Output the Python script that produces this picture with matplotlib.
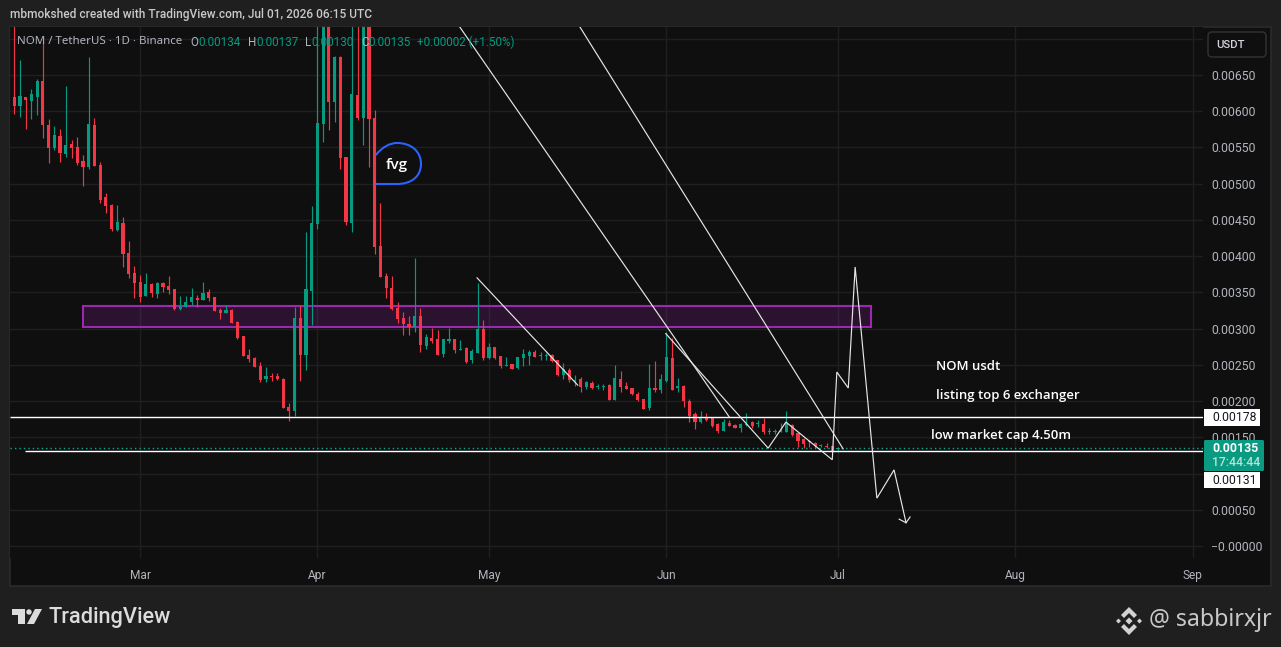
import numpy as np
import matplotlib
matplotlib.use("Agg")
import matplotlib.pyplot as plt
from matplotlib.patches import Rectangle, FancyBboxPatch, Polygon, Circle, PathPatch
from matplotlib.path import Path

UNIT = 1e-5  # values below are in 0.00001 USDT
opens = [620,607,620,614,620,642,581,549,566,541,555,551,531,523,581,526,482,471,436,446,
404,377,364,345,362,348,363,359,355,327,330,337,342,339,351,344,326,322,326,309,
290,264,259,248,230,235,235,230,192,186,315,264,352,444,582,740,613,675,537,446,
622,591,730,591,414,373,356,328,315,306,302,317,276,287,286,265,283,286,270,273,
257,266,299,259,275,262,248,251,246,259,262,268,262,262,264,257,236,243,228,230,
219,225,219,219,222,201,230,221,218,210,203,190,218,215,228,259,218,221,200,182,
171,178,177,168,159,170,167,163,167,171,168,168,157,157,157,157,167,156,148,145,
142,138,138,138,134]
highs = [730,671,620,631,644,696,589,580,575,635,560,564,540,675,591,530,487,472,471,454,
421,386,374,377,363,364,364,373,355,345,345,356,346,364,355,344,328,333,327,311,
290,272,261,254,247,239,239,232,197,330,333,433,469,770,780,800,676,676,537,750,
760,770,780,602,473,377,373,337,323,317,397,328,293,301,298,286,301,286,284,275,
272,363,312,280,275,262,261,251,261,272,270,270,268,266,265,257,253,246,236,233,
228,228,224,224,224,250,242,226,218,213,203,251,255,237,295,287,232,222,203,185,
186,184,178,170,175,174,168,170,184,172,174,177,163,161,170,186,168,156,149,146,
144,141,142,138,137]
lows = [596,592,575,589,595,563,529,546,530,537,535,526,497,520,524,473,460,435,435,385,
370,342,337,345,344,342,351,348,326,326,330,333,330,339,338,324,313,322,308,286,
262,254,247,226,226,228,229,190,172,179,228,243,305,437,558,574,585,520,443,433,
588,553,523,403,371,342,326,308,291,291,295,268,272,280,264,261,280,266,270,253,
253,266,257,258,258,246,248,244,244,248,250,261,257,257,254,235,230,226,221,213,
217,217,217,215,201,201,213,217,208,200,189,188,213,211,226,215,213,192,171,161,
170,172,164,156,159,166,163,157,166,163,164,155,155,155,157,157,152,137,135,137,
135,137,135,130,130]
closes = [607,621,615,624,642,581,549,567,542,553,549,529,523,582,524,477,469,437,447,403,
375,363,344,362,349,363,357,353,327,330,337,344,339,349,342,324,322,326,308,287,
262,258,247,229,235,233,230,190,186,315,264,355,446,584,740,613,675,535,447,624,
591,730,589,413,371,356,327,313,306,302,317,277,288,283,264,286,286,270,272,254,
269,299,259,275,259,248,250,244,261,265,268,261,264,264,255,236,244,229,229,219,
226,218,221,221,201,232,219,217,210,201,189,218,215,230,261,215,221,200,179,171,
177,174,166,159,171,166,163,168,168,166,170,157,159,159,159,170,153,145,141,144,
138,139,137,131,135]

month_days = [22, 53, 83, 114, 144, 175, 206]
month_names = ["Mar", "Apr", "May", "Jun", "Jul", "Aug", "Sep"]
price_ticks = [0, 50, 100, 150, 200, 250, 300, 350, 400, 450, 500, 550, 600, 650, 700]
covered_ticks = [100, 700]  # labels hidden by price tags / the USDT button

level_high = 178
level_low = 131
last_price = 135
zone_low, zone_high = 302, 331
zone_start, zone_end = 12.0, 149.8

trend_a_x, trend_a_y = [80.9, 98.5], [370, 222]
trend_b_x, trend_b_y = [77.9, 125.0], [716, 178]
trend_c_x, trend_c_y = [98.9, 144.9], [716, 134]
path_x = [113.9, 131.8, 134.9, 143.0, 143.8, 145.8, 147.0, 150.8, 153.8, 155.9]
path_y = [293, 135, 171, 119, 240, 218, 385, 66, 105, 32]
arrow_x = [154.7, 155.9, 156.6]
arrow_y = [37, 32, 40]

W, H = 1281, 647
BG = "#1f1f1f"
PANE = "#0f0f0f"
GRID = "#1f1f1f"
UP = "#089981"
DOWN = "#f23645"
TXT = "#b2b5bd"
plt.rcParams["font.family"] = ["Roboto", "DejaVu Sans"]

fig = plt.figure(figsize=(W / 100, H / 100), dpi=100, facecolor=BG)

under = fig.add_axes([0, 0, 1, 1], zorder=0)
under.set_xlim(0, W); under.set_ylim(H, 0); under.axis("off")
under.add_patch(Rectangle((10, 27), 1261, 559, fc=PANE, ec="#2b2b2b", lw=1.2))

L, R, T, B = 10, 1203, 27, 558
ax = fig.add_axes([L / W, (H - B) / H, (R - L) / W, (B - T) / H], zorder=1, facecolor=PANE)
px_day = 5.72
ax.set_xlim((L - 14.3) / px_day, (R - 14.3) / px_day)
ax.set_ylim(-16.6 * UNIT, 716.2 * UNIT)
for s in ax.spines.values():
    s.set_visible(False)

def price_label(t):
    if t in covered_ticks:
        return ""
    return f"{t * UNIT:.5f}" if t else "\u22120.00000"

ax.set_yticks([t * UNIT for t in price_ticks])
ax.set_yticklabels([price_label(t) for t in price_ticks], color=TXT, fontsize=8.8)
ax.yaxis.tick_right()
ax.tick_params(axis="y", length=0, pad=5.8)
ax.set_xticks(month_days)
ax.set_xticklabels(month_names, color=TXT, fontsize=8.6)
ax.tick_params(axis="x", length=0, pad=7.6)
ax.grid(True, color=GRID, lw=1.0)
ax.set_axisbelow(True)

ax.add_patch(Rectangle((zone_start, zone_low * UNIT), zone_end - zone_start,
                       (zone_high - zone_low) * UNIT, fc="#9c27b0", alpha=0.2, ec="none", zorder=1.5))
ax.add_patch(Rectangle((zone_start, zone_low * UNIT), zone_end - zone_start,
                       (zone_high - zone_low) * UNIT, fc="none", ec="#9c27b0", lw=1.5, zorder=2))

xs = np.arange(len(opens))
o, h_, l_, c = [np.array(a) * UNIT for a in (opens, highs, lows, closes)]
cols = [UP if b >= a else DOWN for a, b in zip(opens, closes)]
ax.vlines(xs, l_, h_, colors=cols, lw=0.85, zorder=3)
ax.bar(xs, np.abs(c - o), bottom=np.minimum(o, c), width=0.55, color=cols, lw=0, zorder=3.2)

ax.hlines(level_high * UNIT, ax.get_xlim()[0], ax.get_xlim()[1], color="white", lw=1.0, zorder=4)
ax.hlines(level_low * UNIT, 1.9, ax.get_xlim()[1], color="white", lw=1.0, zorder=4)
ax.axhline(last_price * UNIT, color="#0aa88e", lw=1.0, ls=(0, (1, 2.2)), zorder=4)

line_kw = dict(color="#e6e6e6", lw=0.85, zorder=5, solid_joinstyle="miter")
for lx, ly in ((trend_a_x, trend_a_y), (trend_b_x, trend_b_y), (trend_c_x, trend_c_y),
               (path_x, path_y), (arrow_x, arrow_y)):
    ax.plot(lx, np.array(ly) * UNIT, **line_kw)

over = fig.add_axes([0, 0, 1, 1], zorder=2)
over.set_xlim(0, W); over.set_ylim(H, 0); over.axis("off"); over.patch.set_alpha(0)

over.text(10, 14.5, "mbmokshed created with TradingView.com, Jul 01, 2026 06:15 UTC",
          color="#c9c9c9", fontsize=8.6, va="center", ha="left", fontweight="medium")

leg_y = 42
over.text(17, leg_y, "NOM / TetherUS \u00b7 1D \u00b7 Binance", color=TXT, fontsize=8.3, va="center",
          family=["Noto Sans", "DejaVu Sans"])
for x, s, col in [(190, "O", TXT), (198.5, "0.00134", UP), (248, "H", TXT), (256, "0.00137", UP),
                  (305, "L", TXT), (311, "0.00130", UP), (361, "C", TXT), (368.5, "0.00135", UP),
                  (417, "+0.00002 (+1.50%)", UP)]:
    over.text(x, leg_y, s, color=col, fontsize=8.4, va="center")

# price-scale tags
over.add_patch(FancyBboxPatch((1208, 32), 58, 25, boxstyle="round,pad=0,rounding_size=4",
                              fc=PANE, ec="#333333", lw=1))
over.text(1216, 45, "USDT", color="#d1d4dc", fontsize=8.2, va="center", fontweight="medium")
for top, label in ((409, "0.00178"), (471.5, "0.00131")):
    over.add_patch(Rectangle((1204, top), 56, 16.5, fc="white", ec="none"))
    over.text(1212, top + 8.5, label, color="#131722", fontsize=8.8, va="center")
over.add_patch(FancyBboxPatch((1204, 440), 60, 31, boxstyle="round,pad=0,rounding_size=1.5", fc="#0a9a82", ec="none"))
over.text(1212, 449, "0.00135", color="white", fontsize=8.8, va="center", fontweight="bold")
over.text(1212, 463, "17:44:44", color="#b6e3da", fontsize=8.8, va="center", fontweight="medium")

# annotations
ann_font = ["Open Sans", "DejaVu Sans"]
ann_size = 9.45
over.text(936, 367, "NOM usdt", color="white", fontsize=ann_size, va="center", family=ann_font, fontweight="semibold")
over.text(936, 395, "listing top 6 exchanger", color="white", fontsize=ann_size, va="center", family=ann_font, fontweight="semibold")
over.text(931, 435, "low market cap 4.50m", color="white", fontsize=ann_size, va="center", family=ann_font, fontweight="semibold")

pill = Path([(376, 155), (382, 147), (390, 143), (397, 143), (412, 143), (421, 152), (421, 164),
             (421, 176), (412, 184), (397, 184), (376, 184)],
            [Path.MOVETO, Path.CURVE4, Path.CURVE4, Path.CURVE4, Path.CURVE4, Path.CURVE4, Path.CURVE4,
             Path.CURVE4, Path.CURVE4, Path.CURVE4, Path.LINETO])
over.add_patch(PathPatch(pill, fc="none", ec="#2962ff", lw=1.5))
over.text(397, 165, "fvg", color="white", fontsize=11, ha="center", va="center", family=ann_font, fontweight="semibold")

# footer brand marks
LOGO = "#dcdcdc"
over.add_patch(Polygon([(12, 609), (25, 609), (25, 624), (18, 624), (18, 615), (12, 615)], fc=LOGO, ec="none"))
over.add_patch(Circle((29, 612), 2.7, fc=LOGO, ec="none"))
over.add_patch(Polygon([(35, 609), (42, 609), (34, 624), (27, 624)], fc=LOGO, ec="none"))
over.text(48.5, 617, "TradingView", color=LOGO, fontsize=15.7, va="center", fontweight="medium")

cx, cy = 1129, 621
def poly(pts):
    over.add_patch(Polygon([(cx + a, cy + b) for a, b in pts], fc="#d2d2d2", ec="none"))
poly([(0, -14), (8, -6), (5, -3), (0, -8), (-5, -3), (-8, -6)])
poly([(0, 14), (8, 6), (5, 3), (0, 8), (-5, 3), (-8, 6)])
poly([(0, -3.5), (3.5, 0), (0, 3.5), (-3.5, 0)])
poly([(-10.5, -2.5), (-8, 0), (-10.5, 2.5), (-13, 0)])
poly([(10.5, -2.5), (13, 0), (10.5, 2.5), (8, 0)])
over.text(1149, 620.5, "@ sabbirxjr", color="#c8c8c8", fontsize=16.7, va="center", family=["Noto Sans", "DejaVu Sans"])

fig.savefig("out.png", dpi=100, facecolor=BG)
